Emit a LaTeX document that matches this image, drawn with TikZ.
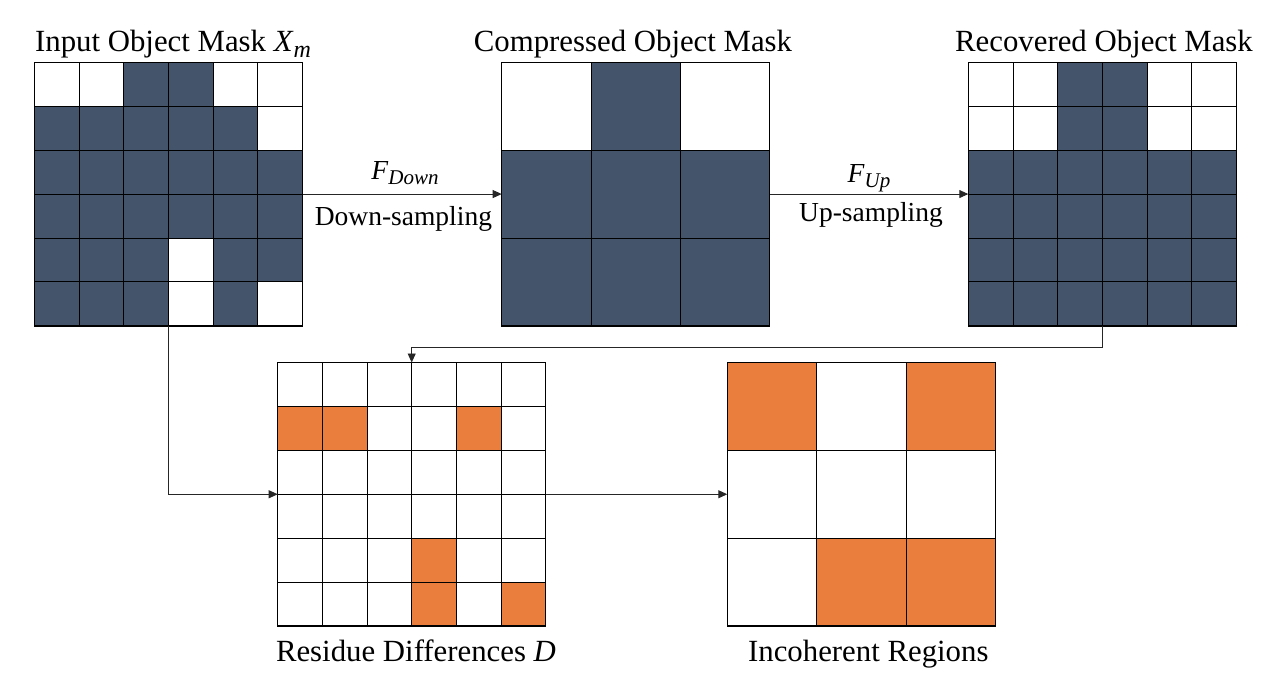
\documentclass[tikz,border=0pt]{standalone}
\usepackage{fontspec}
\setmainfont{Liberation Serif}
\usetikzlibrary{arrows.meta,calc}
\definecolor{maskc}{HTML}{44546A}
\definecolor{diffc}{HTML}{EA7E3C}
\begin{document}
\begin{tikzpicture}[x=1pt,y=-1pt,
  gridbox/.style={draw=black,line width=1.4pt,minimum width=268pt,minimum height=263.5pt,anchor=north west,inner sep=0pt,outer sep=0pt},
  gridline/.style={draw=black,line width=0.8pt},
  conn/.style={draw=black!85,line width=0.9pt,-{Triangle[length=9pt,width=8pt]}},
  ttl/.style={anchor=base,inner sep=0pt,font=\fontsize{30.8}{34}\selectfont},
  lbl/.style={anchor=base,inner sep=0pt,font=\fontsize{27.5}{31}\selectfont}]
\useasboundingbox (0,0) rectangle (1272,688);
\def\W{268}\def\H{263.5}
% --- grid 1: input
\begin{scope}[shift={(34.5,62.3)}]
\foreach \r/\c in {0/2,0/3,1/0,1/1,1/2,1/3,1/4,2/0,2/1,2/2,2/3,2/4,2/5,3/0,3/1,3/2,3/3,3/4,3/5,4/0,4/1,4/2,4/4,4/5,5/0,5/1,5/2,5/4}
  \fill[maskc] (\c*\W/6,\r*\H/6) rectangle ++(\W/6,\H/6);
\foreach \i in {1,...,5}{\draw[gridline] (\i*\W/6,0) -- ++(0,\H); \draw[gridline] (0,\i*\H/6) -- ++(\W,0);}
\end{scope}
\node[gridbox] (inmask) at (34.5,62.3) {};
% --- grid 2: compressed
\begin{scope}[shift={(501.7,62.3)}]
\foreach \r/\c in {0/1,1/0,1/1,1/2,2/0,2/1,2/2}
  \fill[maskc] (\c*\W/3,\r*\H/3) rectangle ++(\W/3,\H/3);
\foreach \i in {1,2}{\draw[gridline] (\i*\W/3,0) -- ++(0,\H); \draw[gridline] (0,\i*\H/3) -- ++(\W,0);}
\end{scope}
\node[gridbox] (comp) at (501.7,62.3) {};
% --- grid 3: recovered
\begin{scope}[shift={(968.3,62.3)}]
\foreach \r/\c in {0/2,0/3,1/2,1/3,2/0,2/1,2/2,2/3,2/4,2/5,3/0,3/1,3/2,3/3,3/4,3/5,4/0,4/1,4/2,4/3,4/4,4/5,5/0,5/1,5/2,5/3,5/4,5/5}
  \fill[maskc] (\c*\W/6,\r*\H/6) rectangle ++(\W/6,\H/6);
\foreach \i in {1,...,5}{\draw[gridline] (\i*\W/6,0) -- ++(0,\H); \draw[gridline] (0,\i*\H/6) -- ++(\W,0);}
\end{scope}
\node[gridbox] (rec) at (968.3,62.3) {};
% --- residue grid
\begin{scope}[shift={(277.7,362.5)}]
\foreach \r/\c in {1/0,1/1,1/4,4/3,5/3,5/5}
  \fill[diffc] (\c*\W/6,\r*\H/6) rectangle ++(\W/6,\H/6);
\foreach \i in {1,...,5}{\draw[gridline] (\i*\W/6,0) -- ++(0,\H); \draw[gridline] (0,\i*\H/6) -- ++(\W,0);}
\end{scope}
\node[gridbox] (res) at (277.7,362.5) {};
% --- incoherent grid
\begin{scope}[shift={(727.3,362.5)}]
\foreach \r/\c in {0/0,0/2,2/1,2/2}
  \fill[diffc] (\c*\W/3,\r*\H/3) rectangle ++(\W/3,\H/3);
\foreach \i in {1,2}{\draw[gridline] (\i*\W/3,0) -- ++(0,\H); \draw[gridline] (0,\i*\H/3) -- ++(\W,0);}
\end{scope}
\node[gridbox] (inc) at (727.3,362.5) {};
% --- titles
\node[ttl] (t1) at (173,51.7) {Input Object Mask \textit{X}\raisebox{-6pt}{\fontsize{24}{26}\selectfont\textit{m}}};
\node[ttl] (t2) at (633,51.7) {Compressed Object Mask};
\node[ttl] (t3) at (1104,51.7) {Recovered Object Mask};
\node[ttl] (t4) at (416,661.7) {Residue Differences \textit{D}};
\node[ttl] (t5) at (868.3,661.7) {Incoherent Regions};
% --- arrow labels
\node[lbl] (fd) at (405,179) {\textit{F}\raisebox{-5pt}{\fontsize{21}{24}\selectfont\textit{Down}}};
\node[lbl] (ld) at (403.4,225.7) {Down-sampling};
\node[lbl] (fu) at (869,182) {\textit{F}\raisebox{-5pt}{\fontsize{21}{24}\selectfont\textit{Up}}};
\node[lbl] (lu) at (871,221.7) {Up-sampling};
% --- connectors
\draw[conn] (inmask.east) -- (inmask.east -| comp.west);
\draw[conn] (comp.east |- inmask.east) -- (inmask.east -| rec.west);
\draw[conn] (inmask.south) |- (res.west);
\coordinate (bend) at ($(rec.south)+(0,21.7)$);
\draw[conn] (rec.south) -- (bend) -| (res.north);
\draw[conn] (res.east) -- (inc.west);
\end{tikzpicture}
\end{document}
